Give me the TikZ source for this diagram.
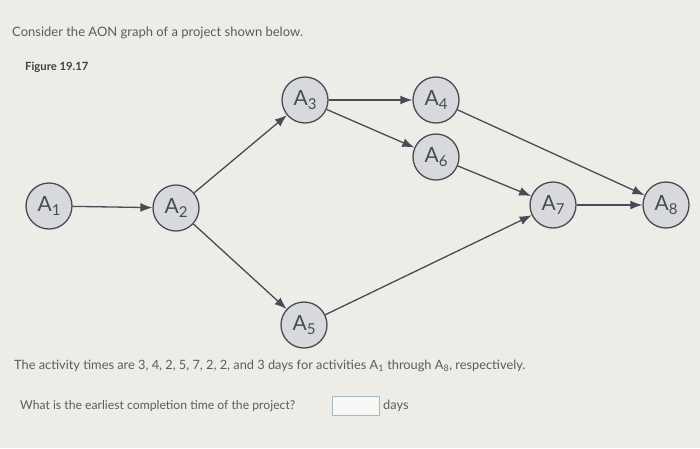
\documentclass[tikz,border=0pt]{standalone}
\usepackage{fontspec}
\setmainfont{Lato}
\usetikzlibrary{arrows.meta}
\definecolor{bg}{HTML}{EEECE7}
\definecolor{nodefill}{HTML}{D8D9DC}
\definecolor{edgec}{HTML}{474B55}
\definecolor{txt}{HTML}{5C5C5C}
\definecolor{boxc}{HTML}{A6BAC6}
\newcommand\actlab[1]{A\raisebox{-4pt}{\fontsize{15}{15}\selectfont #1}}
\begin{document}
\begin{tikzpicture}[x=1pt,y=-1pt,
  act/.style={circle, draw=edgec, line width=1.3pt, fill=nodefill, minimum size=46pt, inner sep=0pt, font=\fontsize{21}{21}\selectfont, text=edgec},
  link/.style={draw=edgec, line width=1.3pt, -{Latex[length=12pt,width=9pt]}},
  body/.style={anchor=base west, inner sep=0pt, text=txt, font=\fontsize{12.8}{15}\selectfont}
]
\fill[bg] (0,0) rectangle (700,448);
\useasboundingbox (0,0) rectangle (700,448);

\node[body, font=\fontsize{13}{15}\selectfont] (q1) at (12,36) {Consider the AON graph of a project shown below.};
\node[body, font=\fontsize{11.3}{14}\selectfont\bfseries, text=black!75] (fig) at (25,70) {Figure 19.17};

\node[act] (a1) at (49,206) {\actlab{1}};
\node[act] (a2) at (176,208) {\actlab{2}};
\node[act] (a3) at (305,100) {\actlab{3}};
\node[act] (a4) at (436,100) {\actlab{4}};
\node[act] (a6) at (436,157) {\actlab{6}};
\node[act] (a7) at (553,205) {\actlab{7}};
\node[act] (a8) at (666,205) {\actlab{8}};
\node[act] (a5) at (304,325) {\actlab{5}};

\draw[link] (a1) -- (a2);
\draw[link] (a2) -- (a3);
\draw[link] (a2) -- (a5);
\draw[link] (a3) -- (a4);
\draw[link] (a3) -- (a6);
\draw[link] (a4) -- (a8);
\draw[link] (a6) -- (a7);
\draw[link] (a5) -- (a7);
\draw[link] (a7) -- (a8);

\node[body] (q2) at (14,369) {The activity times are 3, 4, 2, 5, 7, 2, 2, and 3 days for activities A\textsubscript{1} through A\textsubscript{8}, respectively.};
\node[body, font=\fontsize{12.2}{15}\selectfont] (q3) at (20,409) {What is the earliest completion time of the project?};
\node[draw=boxc, fill=white!60!bg, line width=0.8pt, minimum width=47pt, minimum height=19pt, inner sep=0pt] (ans) at (355.5,405.5) {};
\node[body] (days) at (383,409) {days};
\end{tikzpicture}
\end{document}
